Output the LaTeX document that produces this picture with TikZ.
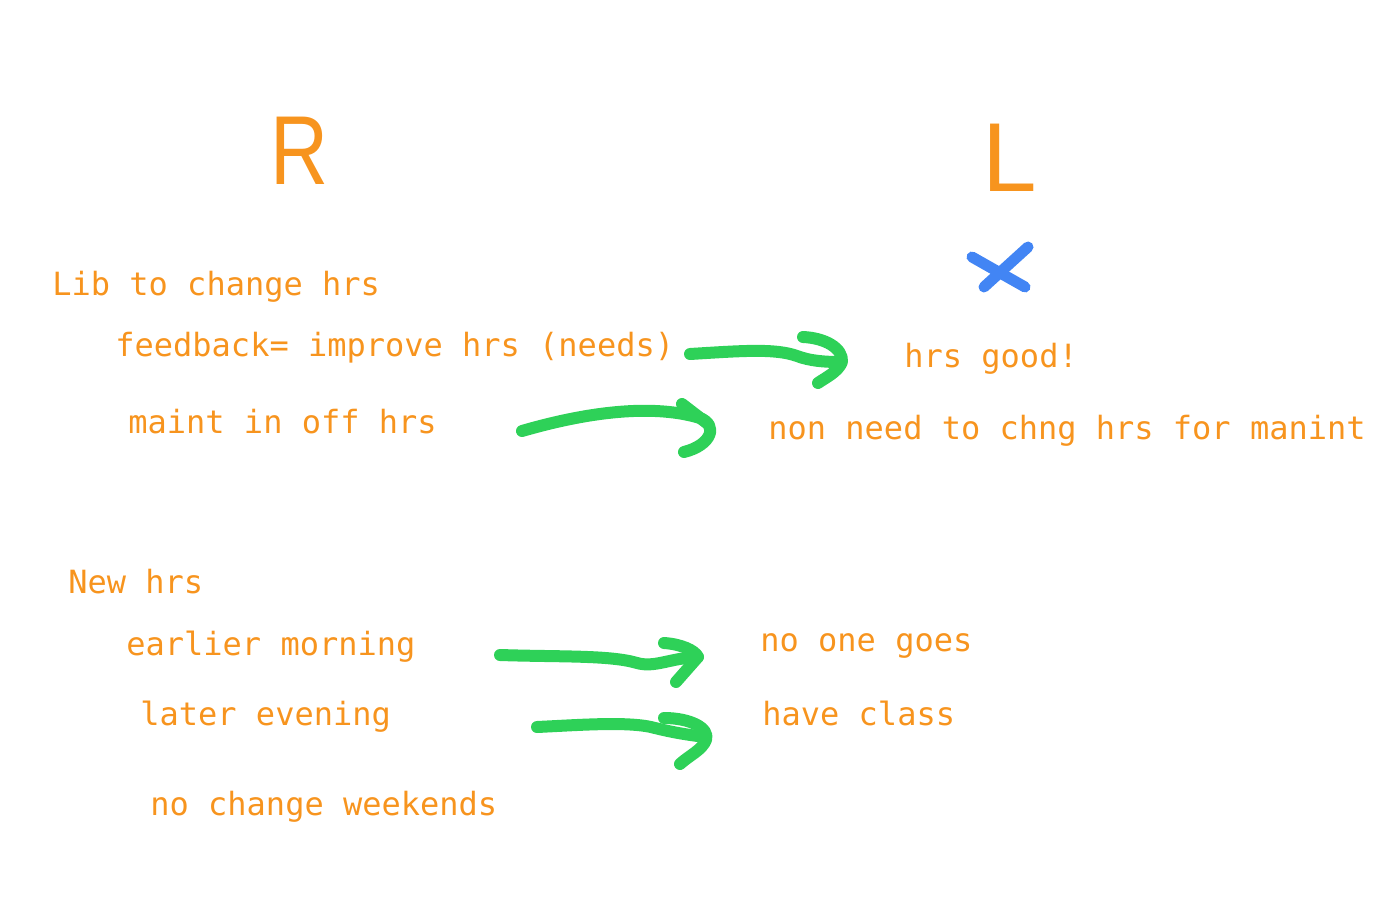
\documentclass[tikz,border=0pt]{standalone}
\usepackage{fontspec}
\setmainfont{Liberation Sans}
\setmonofont{DejaVu Sans Mono}

\definecolor{pen}{RGB}{247,148,30}
\definecolor{marker}{RGB}{46,209,88}
\definecolor{cross}{RGB}{66,133,244}

\tikzset{
  note/.style={anchor=base west,inner sep=0pt,text=pen,font=\ttfamily\fontsize{16}{19}\selectfont},
  side/.style={anchor=base west,inner sep=0pt,text=pen,font=\fontsize{49}{50}\selectfont},
  stroke/.style={marker,line width=6pt,line cap=round,line join=round},
  xmark/.style={cross,line width=5.5pt,line cap=round}
}

\begin{document}
\begin{tikzpicture}[x=0.5pt,y=-0.5pt]
      \useasboundingbox (0,0) rectangle (1374,914);

      \draw (270,185) node[side,xscale=0.82] (right) {R};
      \draw (982,192) node[side] (left) {L};

      % R side
      \draw (52,296) node[note] (lib) {Lib to change hrs};
      \draw (115,357) node[note] (feedback) {feedback= improve hrs (needs)};
      \draw (128,433) node[note] (maint) {maint in off hrs};
      \draw (68,593) node[note] (newhrs) {New hrs};
      \draw (126,655) node[note] (morning) {earlier morning};
      \draw (140,725) node[note] (evening) {later evening};
      \draw (150,815) node[note] (weekends) {no change weekends};

      % L side
      \draw (904,367) node[note] (good) {hrs good!};
      \draw (768,439) node[note] (noneed) {non need to chng hrs for manint};
      \draw (760,651) node[note] (noone) {no one goes};
      \draw (762,725) node[note] (class) {have class};

      \draw[xmark] (972,257) -- (1025,287);
      \draw[xmark] (1028,247) -- (984,287);

      % arrows
      \draw[stroke] (690,354) .. controls (740,351) and (775,348) .. (797,356) .. controls (810,361) and (825,362) .. (840,362);
      \draw[stroke] (803,337) .. controls (825,338) and (843,348) .. (842,362) .. controls (838,372) and (825,378) .. (818,383);

      \draw[stroke] (522,431) .. controls (560,420) and (640,400) .. (700,418) .. controls (718,425) and (712,445) .. (684,452);
      \draw[stroke] (682,404) -- (708,424);

      \draw[stroke] (500,655) .. controls (560,657) and (610,655) .. (637,663) .. controls (655,668) and (670,658) .. (698,657);
      \draw[stroke] (664,643) .. controls (680,644) and (695,650) .. (698,657) -- (676,682);

      \draw[stroke] (537,727) .. controls (580,725) and (630,721) .. (655,728) .. controls (675,733) and (690,735) .. (705,737);
      \draw[stroke] (664,718) .. controls (690,718) and (710,728) .. (706,740) .. controls (702,750) and (690,755) .. (680,764);
    \end{tikzpicture}
\end{document}
